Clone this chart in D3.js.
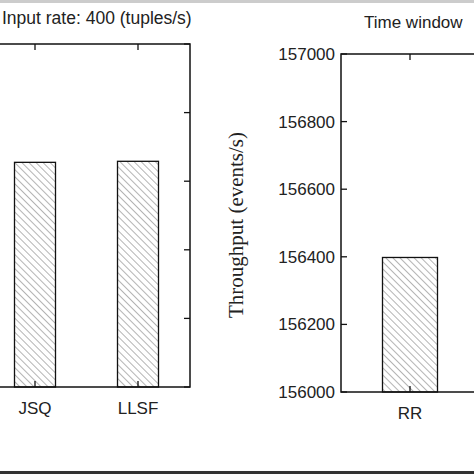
<!DOCTYPE html><html><head><meta charset="utf-8">
<script src="https://cdn.jsdelivr.net/npm/d3@7"></script>
<style>body{margin:0;background:#fff}svg{display:block}</style></head><body>
<svg id="c" width="474" height="474"></svg>
<script>
const categories = ['RR', 'JSQ', 'LLSF'];
const leftValues = [156653, 156655, 156658];
const rightCategories = ['RR', 'JSQ'];
const rightValues = [156398, 156500];
const yTicks = [156000, 156200, 156400, 156600, 156800, 157000];

const svg = d3.select('#c');
const defs = svg.append('defs');
const pat = defs.append('pattern').attr('id','hatch').attr('patternUnits','userSpaceOnUse')
  .attr('width',5).attr('height',5).attr('patternTransform','rotate(-45)');
pat.append('line').attr('x1',0).attr('y1',0).attr('x2',0).attr('y2',5).attr('stroke','#444').attr('stroke-width',0.8);

svg.append('rect').attr('x',0).attr('y',0).attr('width',474).attr('height',3).attr('fill','#ccc');
svg.append('rect').attr('x',0).attr('y',471).attr('width',474).attr('height',3).attr('fill','#333');

const font = 'Helvetica, Arial, "Liberation Sans", sans-serif';

function panel(x0, x1, top, bottom, cats, vals, step, firstX, barW, showLeftLabels) {
  const g = svg.append('g');
  const y = d3.scaleLinear().domain([156000, 157000]).range([bottom, top]);
  const x = d3.scalePoint().domain(cats).range([firstX, firstX + step*(cats.length-1)]);
  g.selectAll('rect.bar').data(cats).join('rect')
    .attr('x', d => x(d) - barW/2).attr('y', (d,i) => y(vals[i]))
    .attr('width', barW).attr('height', (d,i) => bottom - y(vals[i]))
    .attr('fill','url(#hatch)').attr('stroke','#111').attr('stroke-width',1.3);
  g.append('rect').attr('x',x0).attr('y',top).attr('width',x1-x0).attr('height',bottom-top)
    .attr('fill','none').attr('stroke','#111').attr('stroke-width',1.5);
  yTicks.forEach(t => {
    g.append('line').attr('x1',x0).attr('x2',x0+6).attr('y1',y(t)).attr('y2',y(t)).attr('stroke','#111').attr('stroke-width',1.3);
    g.append('line').attr('x1',x1).attr('x2',x1-6).attr('y1',y(t)).attr('y2',y(t)).attr('stroke','#111').attr('stroke-width',1.3);
    if (showLeftLabels) g.append('text').attr('x',x0-6).attr('y',y(t)).attr('dy','0.35em')
      .attr('text-anchor','end').attr('font-family',font).attr('font-size',17).attr('fill','#222')
      .text(t);
  });
  cats.forEach(c => {
    g.append('line').attr('x1',x(c)).attr('x2',x(c)).attr('y1',top).attr('y2',top+6).attr('stroke','#111').attr('stroke-width',1.3);
    g.append('line').attr('x1',x(c)).attr('x2',x(c)).attr('y1',bottom).attr('y2',bottom-6).attr('stroke','#111').attr('stroke-width',1.3);
    if (x(c) > 0 && x(c) < 474)
      g.append('text').attr('x',x(c)).attr('y',bottom+27).attr('text-anchor','middle')
        .attr('font-family',font).attr('font-size',17).attr('fill','#222').text(c);
  });
}

panel(-130, 190, 44, 387, categories, leftValues, 103, -68, 41, false);
panel(341, 620, 54, 392, rightCategories, rightValues, 150, 410, 55, true);

svg.append('text').attr('x',2).attr('y',24).attr('font-family',font).attr('font-size',17.5).attr('fill','#222')
  .text('Input rate: 400 (tuples/s)');
svg.append('text').attr('x',364).attr('y',28).attr('font-family',font).attr('font-size',17).attr('fill','#222')
  .text('Time window');
svg.append('text').attr('transform','translate(243,225) rotate(-90)').attr('text-anchor','middle')
  .attr('font-family','"Liberation Serif","DejaVu Serif",serif').attr('font-size',21).attr('fill','#222')
  .text('Throughput (events/s)');
</script></body></html>
